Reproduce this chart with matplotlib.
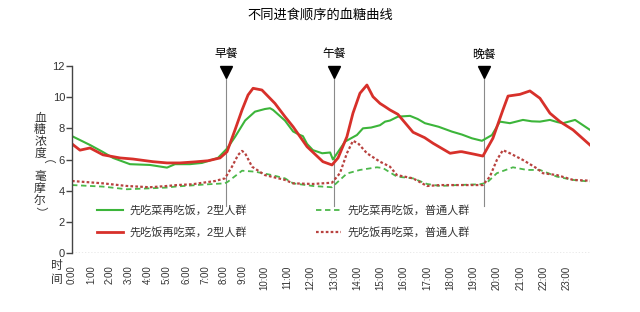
import numpy as np
import matplotlib
matplotlib.use("Agg")
import matplotlib.pyplot as plt

plt.rcParams['font.family'] = ['Liberation Sans', 'Noto Sans CJK SC', 'DejaVu Sans']

# ---------------- data ----------------
title = "不同进食顺序的血糖曲线"
ylabel_chars = ["血", "糖", "浓", "度", "（", "毫", "摩", "尔", "）"]
xlabel_chars = ["时", "间"]
hour_ticks = list(range(24))
hour_labels = [f"{h}:00" for h in hour_ticks]
meal_names = ["早餐", "午餐", "晚餐"]
meal_times = [8.1, 13.0, 19.45]
legend_labels = ["先吃菜再吃饭，2型人群", "先吃饭再吃菜，2型人群",
                 "先吃菜再吃饭，普通人群", "先吃饭再吃菜，普通人群"]

g2_t = [0, 0.95, 1.6, 2.16, 3.05, 4.1, 5.0, 5.42, 6.2, 6.84, 7.68, 8.16, 8.58, 9.1, 9.57,
        10.04, 10.26, 10.39, 10.9, 11.25, 11.5, 11.67, 11.85, 12.1, 12.5, 12.84, 12.96,
        13.48, 13.99, 14.25, 14.6, 14.98, 15.2, 15.41, 15.75, 16.27, 16.6, 16.91, 17.5,
        18.07, 18.5, 18.93, 19.36, 19.79, 20.13, 20.56, 21.12, 21.5, 21.85, 22.28, 22.6,
        22.84, 23.36, 23.7, 24.0]
g2_v = [7.5, 6.93, 6.5, 6.1, 5.7, 5.65, 5.48, 5.7, 5.7, 5.78, 6.1, 6.7, 7.45, 8.5, 9.07,
        9.24, 9.29, 9.18, 8.5, 7.8, 7.6, 7.5, 7.0, 6.6, 6.4, 6.45, 6.0,
        7.15, 7.57, 8.0, 8.05, 8.2, 8.43, 8.5, 8.75, 8.8, 8.6, 8.33, 8.1,
        7.79, 7.6, 7.36, 7.2, 7.57, 8.43, 8.33, 8.54, 8.45, 8.43, 8.54, 8.4,
        8.33, 8.54, 8.2, 7.9]

r2_t = [0, 0.42, 0.95, 1.63, 2.53, 3.21, 4.26, 5.0, 5.68, 6.5, 7.16, 7.79, 8.16, 8.58, 8.95,
        9.24, 9.48, 9.9, 10.47, 10.9, 11.25, 11.85, 12.53, 12.92, 13.18, 13.56, 13.82,
        14.12, 14.42, 14.68, 14.98, 15.2, 15.41, 15.75, 16.4, 16.9, 17.26, 17.99, 18.42,
        18.5, 19.06, 19.4, 19.83, 20.26, 20.48, 20.99, 21.42, 21.85, 22.28, 22.71, 23.27, 24.0]
r2_v = [7.0, 6.6, 6.74, 6.3, 6.1, 6.03, 5.86, 5.78, 5.78, 5.85, 5.92, 6.1, 6.5, 7.9, 9.18,
        10.14, 10.57, 10.46, 9.6, 8.75, 8.1, 6.82, 5.86, 5.65, 6.1, 7.46, 8.97,
        10.25, 10.78, 10.03, 9.6, 9.39, 9.18, 8.9, 7.75, 7.4, 7.04, 6.4, 6.5,
        6.5, 6.33, 6.22, 7.36, 9.18, 10.07, 10.18, 10.4, 9.93, 8.97, 8.43, 7.9, 6.93]

gn_t = [0, 1.63, 2.89, 4.1, 5.0, 5.42, 7.16, 8.05, 8.21, 8.95, 9.57, 10.34, 10.9, 11.25,
        12.1, 12.92, 13.56, 14.12, 14.85, 15.11, 15.71, 16.4, 17.0, 17.56, 18.29, 19.27,
        19.57, 20.0, 20.69, 21.29, 21.85, 22.58, 23.27, 24.0]
gn_v = [4.36, 4.26, 4.09, 4.15, 4.2, 4.26, 4.41, 4.47, 4.58, 5.28, 5.22, 5.0, 4.79, 4.47,
        4.3, 4.22, 5.1, 5.33, 5.5, 5.45, 4.9, 4.79, 4.43, 4.3, 4.36, 4.41,
        4.51, 5.12, 5.5, 5.33, 5.33, 4.9, 4.69, 4.58]

rn_t = [0, 1.63, 2.89, 4.1, 5.0, 5.53, 6.32, 7.53, 8.05, 8.42, 8.74, 8.95, 9.1, 9.43, 10.04,
        10.9, 11.25, 12.1, 12.92, 13.26, 13.56, 13.82, 14.04, 14.42, 14.98, 15.41, 15.71,
        16.4, 17.0, 17.56, 18.29, 19.4, 19.7, 20.0, 20.26, 20.56, 21.12, 21.72, 21.98,
        22.58, 23.27, 24.0]
rn_v = [4.62, 4.47, 4.3, 4.22, 4.3, 4.36, 4.41, 4.62, 4.79, 5.54, 6.29, 6.55, 6.4, 5.54, 5.0,
        4.69, 4.47, 4.43, 4.51, 5.12, 6.4, 7.2, 7.04, 6.4, 5.86, 5.54, 5.0,
        4.79, 4.3, 4.36, 4.36, 4.36, 4.9, 5.97, 6.6, 6.4, 5.97, 5.43, 5.12,
        5.0, 4.69, 4.64]

# piecewise time axis (reference chart spaces early hours tighter)
knot_h = [0, 9, 10, 24]
knot_p = [0, 171, 192, 518]

def fwd(x):
    return np.interp(x, knot_h, knot_p)

def inv(p):
    return np.interp(p, knot_p, knot_h)

GREEN = "#3cb53a"
RED = "#d7302a"
GREEN_D = "#4cb84a"
RED_D = "#b8423f"

fig = plt.figure(figsize=(6.4, 3.12), dpi=100)
ax = fig.add_axes([72/640, 1-253/312, (590-72)/640, (253-66)/312])
ax.set_xscale('function', functions=(fwd, inv))
ax.set_xlim(0, 24)
ax.set_ylim(0, 12)

l1, = ax.plot(g2_t, g2_v, color=GREEN, lw=1.5, solid_joinstyle='round')
l2, = ax.plot(r2_t, r2_v, color=RED, lw=2.0, solid_joinstyle='round')
l3, = ax.plot(gn_t, gn_v, color=GREEN_D, lw=1.3, ls=(0, (3, 2)))
l4, = ax.plot(rn_t, rn_v, color=RED_D, lw=1.6, ls=(0, (1.2, 1.0)))

for name, t in zip(meal_names, meal_times):
    ax.plot([t, t], [3.0, 11.6], color="#8a8a8a", lw=0.8, clip_on=False, zorder=0)
    ax.plot([t], [11.6], marker='v', color='black', markersize=8, clip_on=False)
    ax.text(t, 12.75, name, ha='center', va='center', fontsize=8.5, clip_on=False)

ax.axhline(0, color="#555555", lw=0.9, ls=(0, (1, 1.5)))

for s in ['top', 'right', 'bottom']:
    ax.spines[s].set_visible(False)
ax.spines['left'].set_color("#444444")
ax.spines['left'].set_linewidth(1.0)
ax.set_yticks(range(0, 13, 2))
ax.tick_params(axis='y', direction='out', length=4, width=1, color="#444444",
               labelsize=8, pad=1, labelcolor="#333333")
ax.set_xticks(hour_ticks)
ax.set_xticklabels(hour_labels, rotation=90, fontsize=7, color="#333333")
ax.tick_params(axis='x', length=0, pad=9)

fig.text(320/640, 1-15/312, title, ha='center', va='center', fontsize=9.5)

y0, y1 = 118, 212
for i, ch in enumerate(ylabel_chars):
    yp = y0 + (y1 - y0) * i / (len(ylabel_chars) - 1)
    rot = -90 if ch in "（）" else 0
    fig.text(40/640, 1-yp/312, ch, ha='center', va='center', fontsize=8.5,
             rotation=rot, color="#333333", family=['Noto Sans CJK SC', 'DejaVu Sans'])
for i, ch in enumerate(xlabel_chars):
    yp = 266 + 13 * i
    fig.text(57/640, 1-yp/312, ch, ha='center', va='center', fontsize=8.5,
             color="#333333", family=['Noto Sans CJK SC', 'DejaVu Sans'])

leg = fig.legend([l1, l2, l3, l4], legend_labels, ncol=2, frameon=False,
                 loc='upper left', bbox_to_anchor=(97/640, 1-205/312),
                 fontsize=8, handlelength=2.3, handletextpad=0.6,
                 columnspacing=6.2, labelspacing=1.0, borderpad=0, borderaxespad=0)
for t in leg.get_texts():
    t.set_color("#333333")

fig.savefig("out.png", dpi=100)
